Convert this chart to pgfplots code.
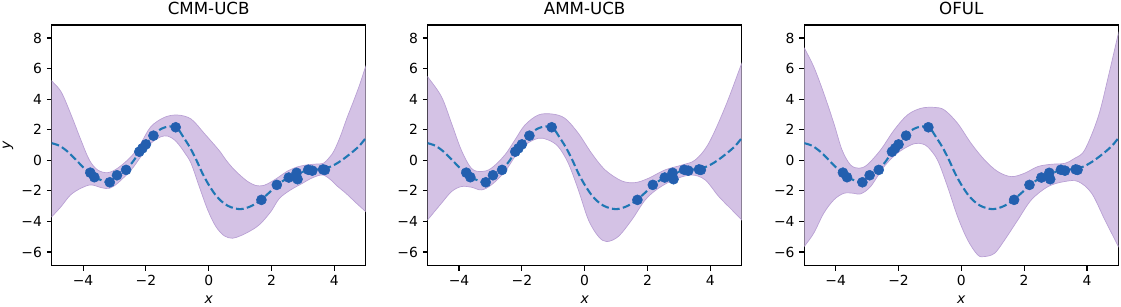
\documentclass[border=0pt]{standalone}
\usepackage{pgfplots}
\pgfplotsset{compat=1.18}
\usepackage{pgfplotstable}
\usepackage{fontspec}
\setmainfont{DejaVu Sans}
\definecolor{bandfill}{RGB}{212,194,229}
\definecolor{bandedge}{RGB}{185,160,212}
\definecolor{meanblue}{RGB}{31,119,180}
\definecolor{dotblue}{RGB}{35,95,175}

\pgfplotstableread{
x y
-5.0 1.12
-4.75 0.95
-4.5 0.58
-4.25 0.08
-4.0 -0.45
-3.8 -0.8
-3.6 -1.12
-3.4 -1.32
-3.2 -1.42
-3.0 -1.22
-2.8 -0.88
-2.6 -0.55
-2.4 -0.05
-2.2 0.55
-2.0 1.05
-1.8 1.55
-1.6 1.95
-1.4 2.15
-1.2 2.22
-1.0 2.1
-0.8 1.5
-0.6 0.85
-0.4 0.05
-0.2 -0.85
0.0 -1.6
0.2 -2.22
0.4 -2.67
0.6 -2.97
0.8 -3.13
1.0 -3.2
1.2 -3.12
1.4 -2.95
1.6 -2.68
1.8 -2.35
2.0 -1.98
2.2 -1.6
2.4 -1.3
2.6 -1.08
2.8 -0.9
3.0 -0.75
3.2 -0.65
3.4 -0.6
3.6 -0.58
3.8 -0.48
4.0 -0.3
4.2 -0.05
4.4 0.25
4.6 0.58
4.8 0.95
5.0 1.45
}\meantab

\pgfplotstableread{
x y
-3.77 -0.81
-3.64 -1.11
-3.15 -1.44
-2.92 -0.98
-2.63 -0.63
-2.21 0.56
-2.11 0.78
-2.0 1.04
-1.76 1.61
-1.05 2.16
1.68 -2.59
2.17 -1.61
2.55 -1.13
2.8 -0.82
2.83 -1.24
3.17 -0.62
3.3 -0.68
3.64 -0.6
3.7 -0.63
}\pointtab

% CMM-UCB band: upper edge left to right, then lower edge right to left
% (first/last rows lie just outside the axis so the smooth turn is clipped away)
\pgfplotstableread{
x y
-5.3 5.92
-5.0 5.2
-4.7 4.48
-4.4 3.07
-4.07 1.33
-3.8 0.02
-3.54 -0.63
-3.22 -0.81
-2.9 -0.52
-2.47 0.24
-2.16 1.11
-1.84 2.2
-1.41 2.81
-0.99 2.96
-0.56 2.7
-0.15 1.78
0.1 1.2
0.35 0.6
0.55 0.02
0.76 -0.5
1.0 -0.98
1.25 -1.4
1.5 -1.65
1.75 -1.65
2.0 -1.4
2.25 -1.07
2.5 -0.72
2.8 -0.45
3.1 -0.31
3.4 -0.25
3.65 -0.2
3.85 0.2
4.0 0.65
4.2 1.6
4.4 2.75
4.6 3.8
4.8 4.9
5.0 6.15
5.3 8.0
5.3 -3.92
5.0 -3.36
4.7 -2.8
4.37 -2.16
4.1 -1.7
3.9 -1.3
3.63 -0.96
3.3 -1.15
2.99 -1.5
2.6 -1.95
2.25 -2.5
2.0 -3.3
1.72 -4.0
1.5 -4.4
1.19 -4.77
1.0 -4.95
0.76 -5.1
0.5 -4.95
0.23 -4.34
-0.03 -3.25
-0.3 -1.72
-0.56 -0.2
-0.75 0.45
-0.94 1.0
-1.1 1.35
-1.3 1.58
-1.52 1.54
-1.84 1.11
-2.16 0.24
-2.47 -0.63
-2.9 -1.5
-3.16 -1.83
-3.4 -1.8
-3.75 -1.61
-4.07 -1.83
-4.4 -2.27
-4.7 -3.03
-5.0 -3.7
-5.3 -4.37
}\bandA

% AMM-UCB band
\pgfplotstableread{
x y
-5.3 6.36
-5.0 5.47
-4.56 4.16
-4.24 2.42
-3.93 0.68
-3.61 -0.52
-3.29 -0.74
-2.97 -0.52
-2.54 0.35
-2.22 1.33
-1.9 2.31
-1.48 2.96
-1.05 3.03
-0.63 2.75
-0.2 1.76
0.22 0.46
0.65 -0.63
1.18 -1.35
1.61 -1.46
2.03 -1.18
2.56 -0.63
3.1 -0.31
3.52 0.02
3.95 1.11
4.48 3.51
5.0 6.34
5.3 7.97
5.3 -4.53
5.0 -3.9
4.69 -3.25
4.27 -2.37
3.84 -1.29
3.41 -0.96
2.88 -1.24
2.35 -1.83
1.93 -2.59
1.5 -3.9
1.07 -4.99
0.7 -5.32
0.44 -4.99
0.12 -3.9
-0.2 -1.94
-0.52 -0.2
-0.84 0.89
-1.16 1.33
-1.48 1.44
-1.9 1.0
-2.22 0.24
-2.54 -0.74
-2.97 -1.61
-3.29 -1.94
-3.61 -1.76
-3.93 -1.72
-4.24 -2.05
-4.56 -2.81
-5.0 -3.9
-5.3 -4.64
}\bandB

% OFUL band
\pgfplotstableread{
x y
-5.3 8.58
-5.0 7.35
-4.7 6.12
-4.38 4.38
-4.06 2.42
-3.8 0.68
-3.53 -0.3
-3.26 -0.52
-3.0 -0.3
-2.57 0.68
-2.14 1.98
-1.72 2.96
-1.29 3.4
-0.86 3.46
-0.54 3.29
-0.12 2.42
0.31 1.11
0.74 0.02
1.16 -0.74
1.59 -1.07
2.01 -0.85
2.44 -0.41
2.87 -0.26
3.29 -0.2
3.61 0.13
3.93 0.68
4.36 2.85
4.68 5.47
5.0 8.3
5.3 10.95
5.3 -6.86
5.0 -5.64
4.57 -3.9
4.15 -2.16
3.72 -1.39
3.29 -1.39
2.76 -1.72
2.23 -2.59
1.8 -3.9
1.38 -5.21
1.06 -6.08
0.74 -6.3
0.52 -6.19
0.2 -5.21
-0.12 -3.68
-0.44 -1.72
-0.76 0.02
-1.08 0.89
-1.34 1.11
-1.61 1.0
-2.04 0.46
-2.46 -0.41
-2.89 -1.72
-3.21 -2.2
-3.42 -2.16
-3.74 -2.16
-4.06 -2.59
-4.38 -3.46
-4.7 -4.77
-5.0 -5.64
-5.3 -6.51
}\bandC

\pgfplotsset{
  gpaxis/.style={
    anchor=south west,
    scale only axis,
    width=226.1pt, height=173.3pt,
    xmin=-5, xmax=5, ymin=-6.9, ymax=8.85,
    axis line style={black, line width=0.8pt},
    tick style={black, line width=0.8pt},
    tick align=outside,
    major tick length=3.5pt,
    xtick={-4,-2,0,2,4},
    xticklabels={−4,−2,0,2,4},
    ytick={-6,-4,-2,0,2,4,6,8},
    yticklabels={−6,−4,−2,0,2,4,6,8},
    xtick pos=bottom, ytick pos=left,
    ticklabel style={font=\fontsize{10}{12}\selectfont},
    xlabel={\itshape x},
    xlabel style={font=\fontsize{10}{12}\selectfont, yshift=0pt},
    title style={font=\fontsize{12}{14}\selectfont, yshift=-2pt},
  },
  gpmean/.style={color=meanblue, line width=1.5pt, dash pattern=on 5.55pt off 2.4pt, no marks, smooth, tension=0.5},
  gpobs/.style={only marks, mark=*, mark size=3.6pt, color=dotblue, mark options={fill=dotblue, draw=dotblue}},
  gpband/.style={fill=bandfill, draw=bandedge, line width=0.5pt, no marks, smooth, tension=0.55},
}

\begin{document}
\begin{tikzpicture}
\path[use as bounding box] (0,0) rectangle (807.12pt,220.32pt);

\begin{axis}[gpaxis, at={(37.2pt,29pt)}, title={CMM-UCB},
  ylabel={\itshape y}, ylabel style={font=\fontsize{10}{12}\selectfont, yshift=-1pt}]
\addplot[gpband] table {\bandA} -- cycle;
\addplot[gpmean] table {\meantab};
\addplot[gpobs] table {\pointtab};
\end{axis}

\begin{axis}[gpaxis, at={(307.9pt,29pt)}, title={AMM-UCB}]
\addplot[gpband] table {\bandB} -- cycle;
\addplot[gpmean] table {\meantab};
\addplot[gpobs] table {\pointtab};
\end{axis}

\begin{axis}[gpaxis, at={(579.1pt,29pt)}, title={OFUL}]
\addplot[gpband] table {\bandC} -- cycle;
\addplot[gpmean] table {\meantab};
\addplot[gpobs] table {\pointtab};
\end{axis}
\end{tikzpicture}
\end{document}
